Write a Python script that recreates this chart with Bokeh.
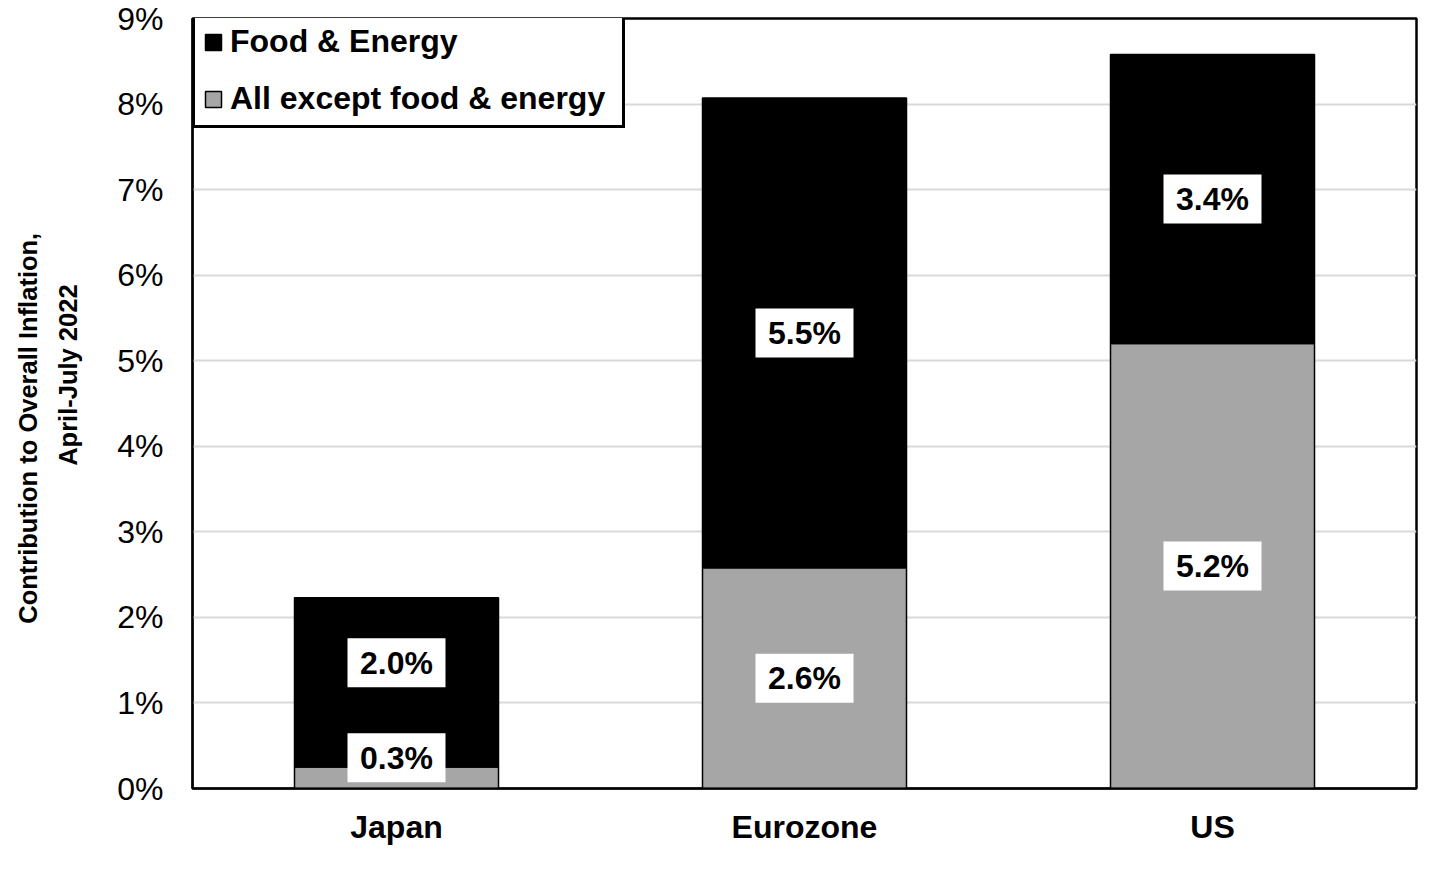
from bokeh.plotting import figure
from bokeh.models import ColumnDataSource, Legend, LegendItem, PrintfTickFormatter, Range1d, FactorRange
from bokeh.core.properties import value
from bokeh.embed import file_html
from bokeh.resources import INLINE

countries = ["Japan", "Eurozone", "US"]
core = [0.25, 2.58, 5.2]          # All except food & energy
food_energy = [1.98, 5.49, 3.38]  # Food & Energy
core_labels = ["0.3%", "2.6%", "5.2%"]
fe_labels = ["2.0%", "5.5%", "3.4%"]
y_ticks = list(range(0, 10))
y_title = ["Contribution to Overall Inflation,", "April-July 2022"]

FONT = "'Liberation Sans', Arial, sans-serif"
NBSP = "\u00a0"

src = ColumnDataSource(dict(country=countries, core=core, fe=food_energy))

p = figure(x_range=FactorRange(*countries, range_padding=0), y_range=Range1d(0, 9),
           width=1440, height=852, output_backend="svg", toolbar_location=None,
           min_border_left=192, min_border_right=24, min_border_top=18, min_border_bottom=64)

renderers = p.vbar_stack(["core", "fe"], x="country", width=0.5, source=src,
                         color=["#a6a6a6", "#000000"], line_color="black", line_width=1.5)

# label positions: segment centres, nudged apart when a segment is too thin
lab_x, lab_y, lab_t = [], [], []
for c, g, f, gl, fl in zip(countries, core, food_energy, core_labels, fe_labels):
    gy = max(g / 2, 0.36)
    fy = max(g + f / 2, gy + 1.11)
    lab_x += [c, c]
    lab_y += [gy, fy]
    lab_t += [gl, fl]
lsrc = ColumnDataSource(dict(x=lab_x, y=lab_y, t=lab_t))
p.rect(x="x", y="y", width=98, height=49, width_units="screen", height_units="screen",
       source=lsrc, fill_color="white", line_color=None)
p.text(x="x", y="y", text="t", source=lsrc, text_align="center", text_baseline="middle",
       text_font=value(FONT), text_font_style="bold", text_font_size="32px", text_color="black")

p.yaxis.ticker = y_ticks
p.yaxis.formatter = PrintfTickFormatter(format="%d%%")
p.yaxis.major_label_text_font = FONT
p.yaxis.major_label_text_font_size = "32px"
p.yaxis.major_label_text_color = "black"
p.yaxis.major_label_standoff = 23

# the original title's two lines are offset from each other: pad with non-breaking spaces
p.yaxis.axis_label = y_title[0] + NBSP * 7 + "\n" + NBSP * 8 + y_title[1]
p.yaxis.axis_label_text_font = FONT
p.yaxis.axis_label_text_font_style = "bold"
p.yaxis.axis_label_text_font_size = "25.5px"
p.yaxis.axis_label_text_line_height = 1.45
p.yaxis.axis_label_text_color = "black"
p.yaxis.axis_label_standoff = 32

p.xaxis.major_label_text_font = FONT
p.xaxis.major_label_text_font_style = "bold"
p.xaxis.major_label_text_font_size = "32px"
p.xaxis.major_label_text_color = "black"
p.xaxis.major_label_standoff = 14

for ax in (p.xaxis, p.yaxis):
    ax.major_tick_line_color = None
    ax.minor_tick_line_color = None
    ax.axis_line_color = "black"
    ax.axis_line_width = 2

p.xgrid.grid_line_color = None
p.ygrid.grid_line_color = "#d9d9d9"
p.ygrid.grid_line_width = 2
p.outline_line_color = "black"
p.outline_line_width = 2.5
p.outline_line_alpha = 1
p.background_fill_color = "white"
p.border_fill_color = "white"

legend = Legend(items=[LegendItem(label="Food & Energy", renderers=[renderers[1]]),
                       LegendItem(label="All except food & energy", renderers=[renderers[0]])],
                location=(0, 660))
legend.margin = 0
legend.padding = 8
legend.spacing = 20
legend.glyph_width = 20
legend.glyph_height = 20
legend.label_height = 36
legend.label_width = 384
legend.label_standoff = 7
legend.label_text_font = FONT
legend.label_text_font_style = "bold"
legend.label_text_font_size = "32px"
legend.label_text_color = "black"
legend.border_line_color = "black"
legend.border_line_width = 3
legend.border_line_alpha = 1
legend.background_fill_alpha = 1
legend.background_fill_color = "white"
p.add_layout(legend)

open("out.html", "w").write(file_html(p, INLINE))
